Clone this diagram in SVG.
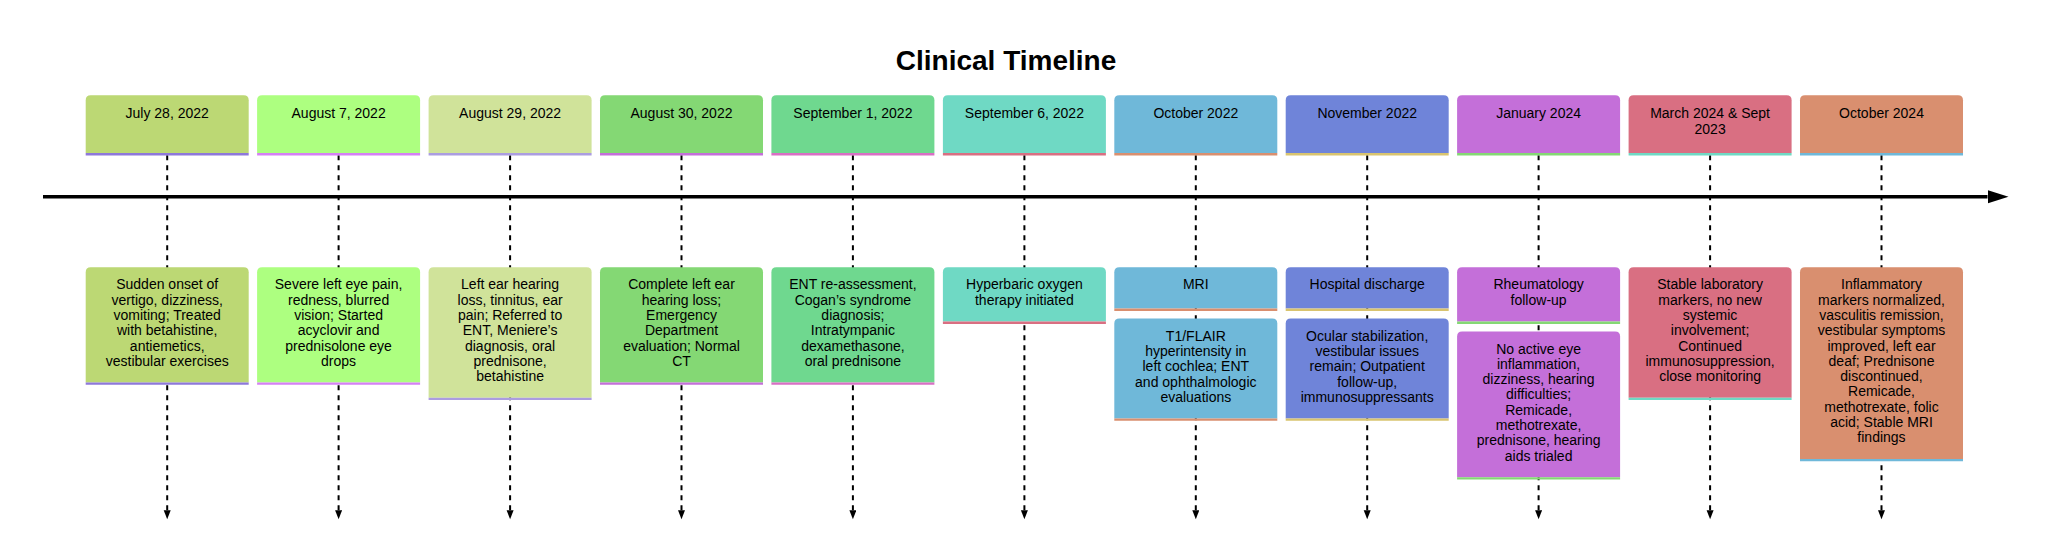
<svg xmlns="http://www.w3.org/2000/svg" width="2048" height="560" viewBox="0 0 2048 560">
<defs>
<marker id="axisHead" markerUnits="userSpaceOnUse" markerWidth="22" markerHeight="14" refX="0" refY="6.7" orient="auto">
<path d="M0,0 L21,6.7 L0,13.4 Z" fill="#000"/>
</marker>
<marker id="dropHead" markerUnits="userSpaceOnUse" markerWidth="10" markerHeight="8" refX="0" refY="3.5" orient="auto">
<path d="M0,0 L9,3.5 L0,7 Z" fill="#000"/>
</marker>
</defs>
<style>
text{font-family:"Liberation Sans",Arial,sans-serif;fill:#000;}
.title{font-size:28px;font-weight:bold;text-anchor:middle;}
.lbl{font-size:14px;text-anchor:middle;}
.axis{stroke:#000;stroke-width:3.5;fill:none;}
.drop{stroke:#000;stroke-width:2;stroke-dasharray:5,5;fill:none;}
.bl{stroke-width:2.4;fill:none;}
.c0 .box{fill:#bcd874}.c0 .bl{stroke:#8e78da}
.c1 .box{fill:#adff80}.c1 .bl{stroke:#d580f5}
.c2 .box{fill:#d0e39a}.c2 .bl{stroke:#ab9de0}
.c3 .box{fill:#84d874}.c3 .bl{stroke:#c46fd9}
.c4 .box{fill:#6fd88f}.c4 .bl{stroke:#d96fc4}
.c5 .box{fill:#6fd9c4}.c5 .bl{stroke:#d96f82}
.c6 .box{fill:#6fb8d9}.c6 .bl{stroke:#d98f6f}
.c7 .box{fill:#6f84d9}.c7 .bl{stroke:#d9c46f}
.c8 .box{fill:#c46fd9}.c8 .bl{stroke:#84d874}
.c9 .box{fill:#d96f82}.c9 .bl{stroke:#6fd9c4}
.c10 .box{fill:#d98f6f}.c10 .bl{stroke:#6fb8d9}
</style>
<rect width="2048" height="560" fill="#fff"/>
<text class="title" x="1006" y="70">Clinical Timeline</text>

<g id="connectors">
<line class="axis" x1="43" y1="196.7" x2="1987.5" y2="196.7" marker-end="url(#axisHead)"/>
<line class="drop" x1="167.2" y1="155.3" x2="167.2" y2="510.3" marker-end="url(#dropHead)"/>
<line class="drop" x1="338.6" y1="155.3" x2="338.6" y2="510.3" marker-end="url(#dropHead)"/>
<line class="drop" x1="510.1" y1="155.3" x2="510.1" y2="510.3" marker-end="url(#dropHead)"/>
<line class="drop" x1="681.5" y1="155.3" x2="681.5" y2="510.3" marker-end="url(#dropHead)"/>
<line class="drop" x1="852.9" y1="155.3" x2="852.9" y2="510.3" marker-end="url(#dropHead)"/>
<line class="drop" x1="1024.4" y1="155.3" x2="1024.4" y2="510.3" marker-end="url(#dropHead)"/>
<line class="drop" x1="1195.8" y1="155.3" x2="1195.8" y2="510.3" marker-end="url(#dropHead)"/>
<line class="drop" x1="1367.2" y1="155.3" x2="1367.2" y2="510.3" marker-end="url(#dropHead)"/>
<line class="drop" x1="1538.6" y1="155.3" x2="1538.6" y2="510.3" marker-end="url(#dropHead)"/>
<line class="drop" x1="1710.1" y1="155.3" x2="1710.1" y2="510.3" marker-end="url(#dropHead)"/>
<line class="drop" x1="1881.5" y1="155.3" x2="1881.5" y2="510.3" marker-end="url(#dropHead)"/>
</g>

<g id="node-jul28" class="c0" transform="translate(85.7,0)">
<path class="box" d="M0,153 V100.3 Q0,95.3 5,95.3 H158 Q163,95.3 163,100.3 V153 Z"/>
<path class="bl" d="M0,154.2 H163"/>
<text class="lbl" x="81.5" y="118.3">July 28, 2022</text>
<path class="box" d="M0,382.4 V272.3 Q0,267.3 5,267.3 H158 Q163,267.3 163,272.3 V382.4 Z"/>
<path class="bl" d="M0,383.6 H163"/>
<text class="lbl"><tspan x="81.5" y="289.3">Sudden onset of</tspan><tspan x="81.5" y="304.6">vertigo, dizziness,</tspan><tspan x="81.5" y="319.9">vomiting; Treated</tspan><tspan x="81.5" y="335.2">with betahistine,</tspan><tspan x="81.5" y="350.5">antiemetics,</tspan><tspan x="81.5" y="365.8">vestibular exercises</tspan></text>
</g>

<g id="node-aug7" class="c1" transform="translate(257.1,0)">
<path class="box" d="M0,153 V100.3 Q0,95.3 5,95.3 H158 Q163,95.3 163,100.3 V153 Z"/>
<path class="bl" d="M0,154.2 H163"/>
<text class="lbl" x="81.5" y="118.3">August 7, 2022</text>
<path class="box" d="M0,382.4 V272.3 Q0,267.3 5,267.3 H158 Q163,267.3 163,272.3 V382.4 Z"/>
<path class="bl" d="M0,383.6 H163"/>
<text class="lbl"><tspan x="81.5" y="289.3">Severe left eye pain,</tspan><tspan x="81.5" y="304.6">redness, blurred</tspan><tspan x="81.5" y="319.9">vision; Started</tspan><tspan x="81.5" y="335.2">acyclovir and</tspan><tspan x="81.5" y="350.5">prednisolone eye</tspan><tspan x="81.5" y="365.8">drops</tspan></text>
</g>

<g id="node-aug29" class="c2" transform="translate(428.6,0)">
<path class="box" d="M0,153 V100.3 Q0,95.3 5,95.3 H158 Q163,95.3 163,100.3 V153 Z"/>
<path class="bl" d="M0,154.2 H163"/>
<text class="lbl" x="81.5" y="118.3">August 29, 2022</text>
<path class="box" d="M0,397.7 V272.3 Q0,267.3 5,267.3 H158 Q163,267.3 163,272.3 V397.7 Z"/>
<path class="bl" d="M0,398.9 H163"/>
<text class="lbl"><tspan x="81.5" y="289.3">Left ear hearing</tspan><tspan x="81.5" y="304.6">loss, tinnitus, ear</tspan><tspan x="81.5" y="319.9">pain; Referred to</tspan><tspan x="81.5" y="335.2">ENT, Meniere’s</tspan><tspan x="81.5" y="350.5">diagnosis, oral</tspan><tspan x="81.5" y="365.8">prednisone,</tspan><tspan x="81.5" y="381.1">betahistine</tspan></text>
</g>

<g id="node-aug30" class="c3" transform="translate(600,0)">
<path class="box" d="M0,153 V100.3 Q0,95.3 5,95.3 H158 Q163,95.3 163,100.3 V153 Z"/>
<path class="bl" d="M0,154.2 H163"/>
<text class="lbl" x="81.5" y="118.3">August 30, 2022</text>
<path class="box" d="M0,382.4 V272.3 Q0,267.3 5,267.3 H158 Q163,267.3 163,272.3 V382.4 Z"/>
<path class="bl" d="M0,383.6 H163"/>
<text class="lbl"><tspan x="81.5" y="289.3">Complete left ear</tspan><tspan x="81.5" y="304.6">hearing loss;</tspan><tspan x="81.5" y="319.9">Emergency</tspan><tspan x="81.5" y="335.2">Department</tspan><tspan x="81.5" y="350.5">evaluation; Normal</tspan><tspan x="81.5" y="365.8">CT</tspan></text>
</g>

<g id="node-sep1" class="c4" transform="translate(771.4,0)">
<path class="box" d="M0,153 V100.3 Q0,95.3 5,95.3 H158 Q163,95.3 163,100.3 V153 Z"/>
<path class="bl" d="M0,154.2 H163"/>
<text class="lbl" x="81.5" y="118.3">September 1, 2022</text>
<path class="box" d="M0,382.4 V272.3 Q0,267.3 5,267.3 H158 Q163,267.3 163,272.3 V382.4 Z"/>
<path class="bl" d="M0,383.6 H163"/>
<text class="lbl"><tspan x="81.5" y="289.3">ENT re-assessment,</tspan><tspan x="81.5" y="304.6">Cogan’s syndrome</tspan><tspan x="81.5" y="319.9">diagnosis;</tspan><tspan x="81.5" y="335.2">Intratympanic</tspan><tspan x="81.5" y="350.5">dexamethasone,</tspan><tspan x="81.5" y="365.8">oral prednisone</tspan></text>
</g>

<g id="node-sep6" class="c5" transform="translate(942.9,0)">
<path class="box" d="M0,153 V100.3 Q0,95.3 5,95.3 H158 Q163,95.3 163,100.3 V153 Z"/>
<path class="bl" d="M0,154.2 H163"/>
<text class="lbl" x="81.5" y="118.3">September 6, 2022</text>
<path class="box" d="M0,321.5 V272.3 Q0,267.3 5,267.3 H158 Q163,267.3 163,272.3 V321.5 Z"/>
<path class="bl" d="M0,322.7 H163"/>
<text class="lbl"><tspan x="81.5" y="289.3">Hyperbaric oxygen</tspan><tspan x="81.5" y="304.6">therapy initiated</tspan></text>
</g>

<g id="node-oct2022" class="c6" transform="translate(1114.3,0)">
<path class="box" d="M0,153 V100.3 Q0,95.3 5,95.3 H158 Q163,95.3 163,100.3 V153 Z"/>
<path class="bl" d="M0,154.2 H163"/>
<text class="lbl" x="81.5" y="118.3">October 2022</text>
<path class="box" d="M0,308.6 V272.3 Q0,267.3 5,267.3 H158 Q163,267.3 163,272.3 V308.6 Z"/>
<path class="bl" d="M0,309.8 H163"/>
<text class="lbl" x="81.5" y="289.3">MRI</text>
<path class="box" d="M0,418.4 V323.6 Q0,318.6 5,318.6 H158 Q163,318.6 163,323.6 V418.4 Z"/>
<path class="bl" d="M0,419.6 H163"/>
<text class="lbl"><tspan x="81.5" y="340.6">T1/FLAIR</tspan><tspan x="81.5" y="355.9">hyperintensity in</tspan><tspan x="81.5" y="371.2">left cochlea; ENT</tspan><tspan x="81.5" y="386.5">and ophthalmologic</tspan><tspan x="81.5" y="401.8">evaluations</tspan></text>
</g>

<g id="node-nov2022" class="c7" transform="translate(1285.7,0)">
<path class="box" d="M0,153 V100.3 Q0,95.3 5,95.3 H158 Q163,95.3 163,100.3 V153 Z"/>
<path class="bl" d="M0,154.2 H163"/>
<text class="lbl" x="81.5" y="118.3">November 2022</text>
<path class="box" d="M0,308.6 V272.3 Q0,267.3 5,267.3 H158 Q163,267.3 163,272.3 V308.6 Z"/>
<path class="bl" d="M0,309.8 H163"/>
<text class="lbl" x="81.5" y="289.3">Hospital discharge</text>
<path class="box" d="M0,418.4 V323.6 Q0,318.6 5,318.6 H158 Q163,318.6 163,323.6 V418.4 Z"/>
<path class="bl" d="M0,419.6 H163"/>
<text class="lbl"><tspan x="81.5" y="340.6">Ocular stabilization,</tspan><tspan x="81.5" y="355.9">vestibular issues</tspan><tspan x="81.5" y="371.2">remain; Outpatient</tspan><tspan x="81.5" y="386.5">follow-up,</tspan><tspan x="81.5" y="401.8">immunosuppressants</tspan></text>
</g>

<g id="node-jan2024" class="c8" transform="translate(1457.1,0)">
<path class="box" d="M0,153 V100.3 Q0,95.3 5,95.3 H158 Q163,95.3 163,100.3 V153 Z"/>
<path class="bl" d="M0,154.2 H163"/>
<text class="lbl" x="81.5" y="118.3">January 2024</text>
<path class="box" d="M0,321.5 V272.3 Q0,267.3 5,267.3 H158 Q163,267.3 163,272.3 V321.5 Z"/>
<path class="bl" d="M0,322.7 H163"/>
<text class="lbl"><tspan x="81.5" y="289.3">Rheumatology</tspan><tspan x="81.5" y="304.6">follow-up</tspan></text>
<path class="box" d="M0,477.2 V336.5 Q0,331.5 5,331.5 H158 Q163,331.5 163,336.5 V477.2 Z"/>
<path class="bl" d="M0,478.4 H163"/>
<text class="lbl"><tspan x="81.5" y="353.5">No active eye</tspan><tspan x="81.5" y="368.8">inflammation,</tspan><tspan x="81.5" y="384.1">dizziness, hearing</tspan><tspan x="81.5" y="399.4">difficulties;</tspan><tspan x="81.5" y="414.7">Remicade,</tspan><tspan x="81.5" y="430">methotrexate,</tspan><tspan x="81.5" y="445.3">prednisone, hearing</tspan><tspan x="81.5" y="460.6">aids trialed</tspan></text>
</g>

<g id="node-mar2024" class="c9" transform="translate(1628.6,0)">
<path class="box" d="M0,153 V100.3 Q0,95.3 5,95.3 H158 Q163,95.3 163,100.3 V153 Z"/>
<path class="bl" d="M0,154.2 H163"/>
<text class="lbl"><tspan x="81.5" y="118.3">March 2024 &amp; Sept</tspan><tspan x="81.5" y="133.6">2023</tspan></text>
<path class="box" d="M0,397.7 V272.3 Q0,267.3 5,267.3 H158 Q163,267.3 163,272.3 V397.7 Z"/>
<path class="bl" d="M0,398.9 H163"/>
<text class="lbl"><tspan x="81.5" y="289.3">Stable laboratory</tspan><tspan x="81.5" y="304.6">markers, no new</tspan><tspan x="81.5" y="319.9">systemic</tspan><tspan x="81.5" y="335.2">involvement;</tspan><tspan x="81.5" y="350.5">Continued</tspan><tspan x="81.5" y="365.8">immunosuppression,</tspan><tspan x="81.5" y="381.1">close monitoring</tspan></text>
</g>

<g id="node-oct2024" class="c10" transform="translate(1800,0)">
<path class="box" d="M0,153 V100.3 Q0,95.3 5,95.3 H158 Q163,95.3 163,100.3 V153 Z"/>
<path class="bl" d="M0,154.2 H163"/>
<text class="lbl" x="81.5" y="118.3">October 2024</text>
<path class="box" d="M0,458.9 V272.3 Q0,267.3 5,267.3 H158 Q163,267.3 163,272.3 V458.9 Z"/>
<path class="bl" d="M0,460.1 H163"/>
<text class="lbl"><tspan x="81.5" y="289.3">Inflammatory</tspan><tspan x="81.5" y="304.6">markers normalized,</tspan><tspan x="81.5" y="319.9">vasculitis remission,</tspan><tspan x="81.5" y="335.2">vestibular symptoms</tspan><tspan x="81.5" y="350.5">improved, left ear</tspan><tspan x="81.5" y="365.8">deaf; Prednisone</tspan><tspan x="81.5" y="381.1">discontinued,</tspan><tspan x="81.5" y="396.4">Remicade,</tspan><tspan x="81.5" y="411.7">methotrexate, folic</tspan><tspan x="81.5" y="427">acid; Stable MRI</tspan><tspan x="81.5" y="442.3">findings</tspan></text>
</g>
</svg>
